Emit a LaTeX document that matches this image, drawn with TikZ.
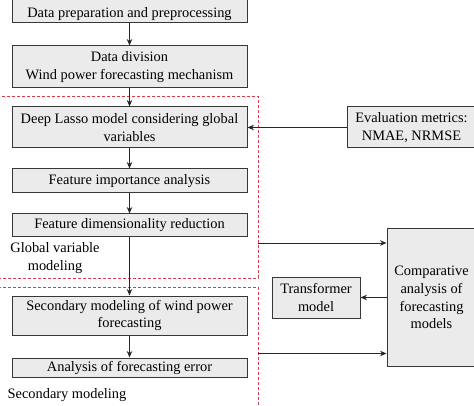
\documentclass[tikz,border=0pt]{standalone}
\usepackage{fontspec}
\setmainfont{Liberation Serif}
\usetikzlibrary{arrows.meta,calc}
\definecolor{boxfill}{RGB}{235,235,235}
\definecolor{boxline}{RGB}{55,55,55}
\definecolor{redline}{RGB}{215,60,75}
\tikzset{
  procbox/.style={draw=boxline, fill=boxfill, line width=1pt, inner sep=0pt, align=center,
    font=\fontsize{14.4}{17.8}\selectfont},
  regionbox/.style={draw=redline, line width=0.8pt, dash pattern=on 3pt off 2pt, inner sep=0pt},
  plainlabel/.style={inner sep=0pt, align=center, font=\fontsize{14.4}{17.8}\selectfont},
  flow/.style={draw=black!85, line width=0.8pt, -{Stealth[length=6.5pt,width=5.5pt]}},
}
\begin{document}
\begin{tikzpicture}[x=1pt,y=-1pt]
\useasboundingbox (0,0) rectangle (474,406);
% dashed regions
\node[regionbox, minimum width=260pt, minimum height=182pt] (r1) at (128,187) {};
\node[regionbox, minimum width=260pt, minimum height=133pt] (r2) at (128,353.5) {};
% left column
\node[procbox, minimum width=235pt, minimum height=40pt, text height=29pt, text depth=0pt] (b1) at (129.5,3) {Data preparation and preprocessing};
\node[procbox, minimum width=235pt, minimum height=42pt] (b2) at (129.5,67) {Data division\\Wind power forecasting mechanism};
\node[procbox, minimum width=235pt, minimum height=41pt] (b3) at (129.5,127.5) {Deep Lasso model considering global\\variables};
\node[procbox, minimum width=235pt, minimum height=24pt] (b4) at (129.5,181) {Feature importance analysis};
\node[procbox, minimum width=235pt, minimum height=23pt] (b5) at (129.5,225.5) {Feature dimensionality reduction};
\node[procbox, minimum width=235pt, minimum height=39pt] (b6) at (129.5,315.5) {Secondary modeling of wind power\\forecasting};
\node[procbox, minimum width=235pt, minimum height=19pt] (b7) at (129.5,367.5) {Analysis of forecasting error};
\node[plainlabel] (l1) at (55,258) {Global variable\\modeling};
\node[plainlabel] (l2) at (67,395) {Secondary modeling};
% right column
\node[procbox, minimum width=129pt, minimum height=41pt] (ev) at (411.5,127.5) {Evaluation metrics:\\NMAE, NRMSE};
\node[procbox, minimum width=89pt, minimum height=137pt] (cmp) at (431.5,297.5) {Comparative\\analysis of\\forecasting\\models};
\node[procbox, minimum width=88pt, minimum height=41pt] (tr) at (316,297.5) {Transformer\\model};
% connectors
\draw[flow] (b1) -- (b2);
\draw[flow] (b2) -- (b3);
\draw[flow] (b3) -- (b4);
\draw[flow] (b4) -- (b5);
\draw[flow] (b5) -- (b6);
\draw[flow] (b6) -- (b7);
\draw[flow] (ev.west) -- (b3.east);
\coordinate (r1out) at ($(r1.east)+(0,56)$);
\draw[flow] (r1out) -- (r1out -| cmp.west);
\draw[flow] (r2.east) -- (r2.east -| cmp.west);
\draw[flow] (cmp.west |- tr.east) -- (tr.east);
\end{tikzpicture}
\end{document}
